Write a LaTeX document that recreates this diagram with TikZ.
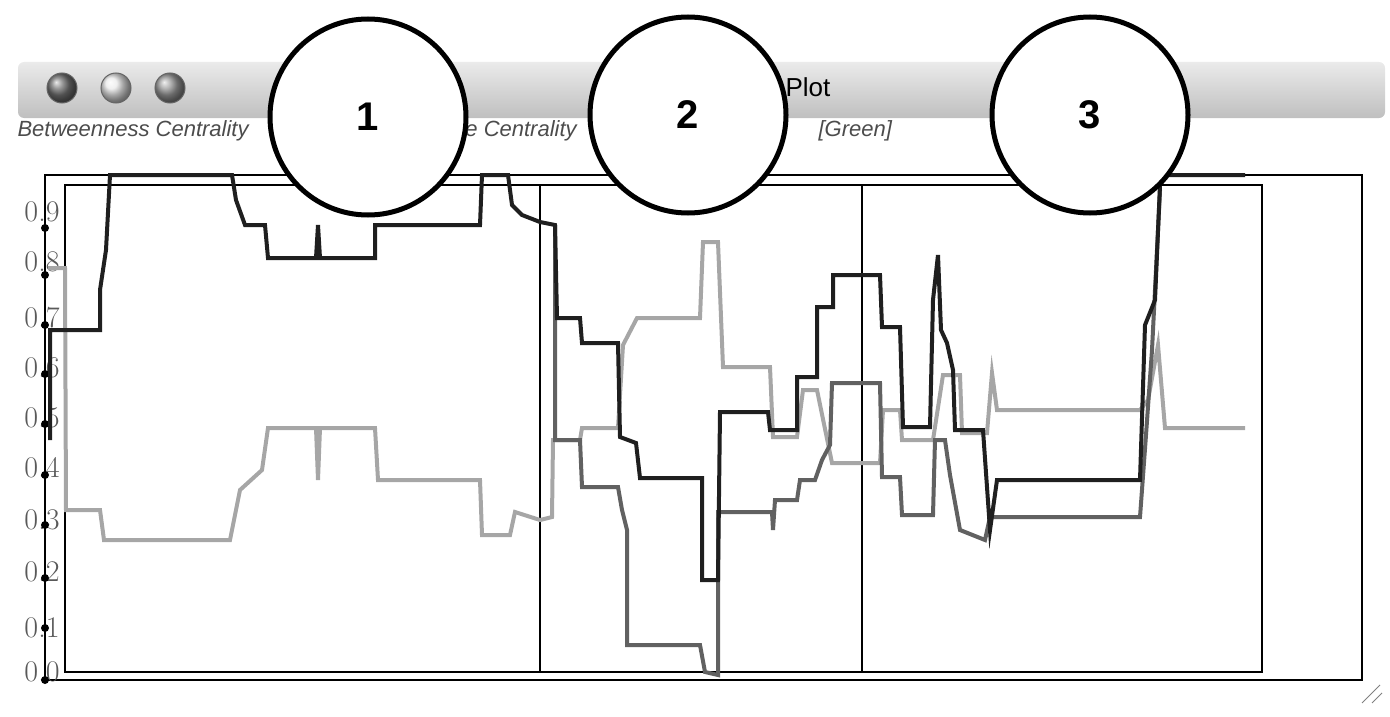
\documentclass[tikz,border=0pt]{standalone}
\usepackage{fontspec}
\newfontfamily\sansf{Liberation Sans}
\begin{document}
\begin{tikzpicture}[x=1pt,y=-1pt,
  bser/.style={line width=4pt,color=black!88,line join=miter},
  lser/.style={line width=4pt,color=black!35},
  mser/.style={line width=4pt,color=black!62},
  callout/.style={circle,draw=black,line width=5pt,fill=white,minimum size=196pt,inner sep=0pt,font=\sansf\bfseries\fontsize{40}{44}\selectfont},
  btn/.style={circle,draw=black!60,line width=1pt,minimum size=30pt,inner sep=0pt},
  subt/.style={font=\sansf\itshape\fontsize{22}{24}\selectfont,text=black!70},
  ticklbl/.style={font=\fontsize{30}{32}\selectfont,text=black!65}]
\useasboundingbox (0,0) rectangle (1390,717);
% title bar
\shade[top color=black!8,bottom color=black!25,rounded corners=6pt] (18,62) rectangle (1385,118);
\node[btn,ball color=black!55] (b1) at (62,88) {};
\node[btn,ball color=black!8] (b2) at (116,88) {};
\node[btn,ball color=black!40] (b3) at (170,88) {};
\node[font=\sansf\fontsize{26}{28}\selectfont,anchor=east] (title) at (834,90) {Centrality Plot};
\node[subt,anchor=west] (sub1) at (14,131) {Betweenness Centrality};
\node[subt,anchor=west] (sub2) at (402,131) {Degree Centrality};
\node[subt,anchor=east] (sub3) at (780,131) {Closeness};
\node[subt,anchor=west] (sub4) at (815,131) {[Green]};
% frames
\draw[line width=1.5pt] (45,175) rectangle (1362,680);
\draw[line width=1.5pt] (65,185) rectangle (1262,672);
\draw[line width=1.5pt] (540,185) -- (540,672);
\draw[line width=1.5pt] (862,185) -- (862,672);
\draw[line width=2pt] (45,180) -- (45,682);
% ticks
\foreach \k/\yl/\yd in {9/212/228,8/262/275,7/318/325,6/368/374,5/418/424,4/468/475,3/520/525,2/572/578,1/628/628,0/672/680}{
  \node[ticklbl] at (42,\yl) {0.\k};
  \fill (45,\yd) circle (4pt);
}
% light gray series
\draw[lser] (48,268)--(65,268)--(66,510)--(100,510)--(104,540)--(230,540)--(240,490)--(262,470)--(268,428)--(316,428)--(318,480)--(320,428)--(375,428)--(378,480)--(480,480)--(482,535)--(510,535)--(515,512)--(540,520)--(552,517)--(553,440)--(580,440)--(582,428)--(618,428)--(623,345)--(637,318)--(700,318)--(703,242)--(718,242)--(723,367)--(770,367)--(773,437)--(797,437)--(803,390)--(817,390)--(832,463)--(880,463)--(883,410)--(900,410)--(902,440)--(933,440)--(943,375)--(960,375)--(962,433)--(987,433)--(992,373)--(997,410)--(1140,410)--(1148,400)--(1158,345)--(1165,428)--(1245,428);
% mid gray series
\draw[mser] (555,225)--(555,440)--(580,440)--(582,487)--(618,487)--(622,510)--(627,530)--(627,645)--(700,645)--(705,672)--(718,675)--(718,512)--(772,512)--(773,530)--(775,500)--(797,500)--(800,480)--(815,480)--(822,460)--(830,445)--(832,383)--(880,383)--(882,477)--(900,477)--(902,515)--(933,515)--(935,440)--(945,440)--(950,475)--(960,530)--(985,540)--(990,517)--(1140,517)--(1146,435)--(1152,350)--(1160,190);
% black series
\draw[bser] (50,440)--(50,330)--(100,330)--(100,290)--(106,250)--(110,175)--(232,175)--(236,200)--(245,225)--(265,225)--(268,258)--(316,258)--(318,225)--(320,258)--(375,258)--(375,225)--(480,225)--(482,175)--(508,175)--(512,205)--(522,215)--(540,222)--(555,225)--(557,318)--(580,318)--(582,343)--(618,343)--(620,437)--(636,443)--(640,478)--(702,478)--(702,580)--(718,580)--(720,412)--(768,412)--(770,430)--(797,430)--(797,377)--(817,377)--(817,307)--(833,307)--(833,275)--(880,275)--(882,327)--(900,327)--(903,427)--(930,427)--(933,300)--(938,255)--(941,330)--(947,343)--(953,370)--(955,430)--(983,430)--(990,530)--(997,480)--(1140,480)--(1145,325)--(1155,300)--(1160,185)--(1165,175)--(1245,175);
% resize grip
\draw[black!50,line width=1pt] (1362,703)--(1380,685) (1372,703)--(1382,693);
% callouts
\node[callout] (c1) at (368,117) {1};
\node[callout] (c2) at (688,115) {2};
\node[callout] (c3) at (1090,115) {3};
\end{tikzpicture}
\end{document}
